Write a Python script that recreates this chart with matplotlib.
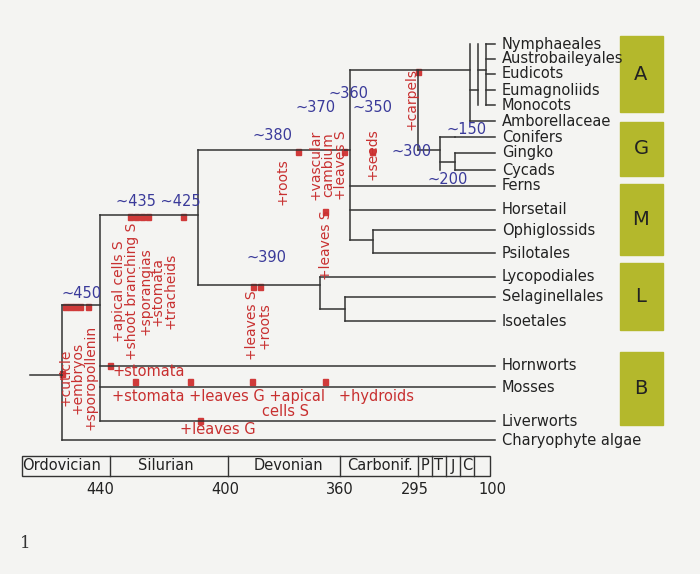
import matplotlib
matplotlib.use("Agg")
import matplotlib.pyplot as plt
from matplotlib.patches import Rectangle

taxa = ["Nymphaeales","Austrobaileyales","Eudicots","Eumagnoliids","Monocots","Amborellaceae",
        "Conifers","Gingko","Cycads","Ferns","Horsetail","Ophiglossids","Psilotales",
        "Lycopodiales","Selaginellales","Isoetales","Hornworts","Mosses","Liverworts","Charyophyte algae"]
taxa_y = [44,59,74,90,105,121,137,153,170,186,210,230,253,277,297,321,366,387,421,440]
taxa_start = [486,486,486,486,486,470,455,455,455,350,350,373,373,320,345,345,100,100,100,62]

groups = ["A","G","M","L","B"]
group_span = [(36,112),(122,176),(184,255),(263,330),(352,425)]

periods = ["Ordovician","Silurian","Devonian","Carbonif.","P","T","J","C"]
period_edges = [22,110,228,340,418,432,446,460,474,490]
period_lx = [62,166,288,380,425,439,453,467]
ages = ["440","400","360","295","100"]
ages_x = [100,225,340,415,492]

ages_node = ["~450","~435 ~425","~390","~380","~370","~360","~350","~300","~150","~200"]
ages_xy = [(82,293),(158,202),(267,258),(272,136),(316,108),(348,94),(372,108),(412,152),(467,130),(448,180)]

# tree segments (x1,y1,x2,y2)
segs = [(30,375,62,375),(62,305,62,440),(62,305,100,305),(100,215,100,421),
        (100,421,495,421),(100,387,495,387),(100,366,495,366),(100,215,198,215),(62,440,495,440),
        (198,150,198,285),(198,150,350,150),(198,285,320,285),(320,277,320,309),
        (320,309,345,309),(345,297,345,321),(350,70,350,240),(350,70,418,70),
        (418,70,418,150),(418,150,440,150),(440,137,440,170),(440,137,455,137),(440,162,455,162),(455,153,455,170),
        (418,70,470,70),(470,44,470,121),(470,90,478,90),(478,44,478,105),(478,70,486,70),(486,44,486,105),
        (350,186,495,186),(350,240,373,240),(373,230,373,253)]
segs += [(s,y,495,y) for s,y in zip(taxa_start,taxa_y) if s in (486,470,455,373,320,345)]
segs += [(350,210,495,210)]

markers = [(65,307),(70,307),(75,307),(80,307),(88,307),(130,217),(136,217),(142,217),(148,217),(183,217),
           (253,287),(260,287),(298,152),(344,152),(372,152),(418,72),(325,212),
           (62,374),(135,382),(190,382),(252,382),(325,382),(200,421),(110,366)]

red_rot = [("+cuticle\n+embryos\n+sporopollenin",78,430),
           ("+apical cells S\n+shoot branching S\n+sporangias\n+stomata\n+tracheids",145,360),
           ("+leaves S\n+roots",258,360),("+roots",283,205),("+vascular\ncambium\n+leaves S",328,200),
           ("+seeds",372,180),("+carpels",412,130),("+leaves S",326,280)]
red_h = [("+stomata",112,372),("+stomata +leaves G +apical   +hydroids",112,396),("cells S",262,412),("+leaves G",180,430)]

fig = plt.figure(figsize=(7,5.74),dpi=100)
ax = fig.add_axes([0,0,1,1])
ax.set_xlim(0,700); ax.set_ylim(574,0); ax.axis("off")
fig.patch.set_facecolor("#f4f4f2")

for x1,y1,x2,y2 in segs:
    ax.plot([x1,x2],[y1,y2],color="#333",lw=1.1)
for t,y in zip(taxa,taxa_y):
    ax.text(502,y,t,fontsize=10.5,va="center",color="#222")
for g,(a,b) in zip(groups,group_span):
    ax.add_patch(Rectangle((620,a),43,b-a,color="#b4b82c"))
    ax.text(641,(a+b)/2,g,fontsize=14,ha="center",va="center",color="#222")
ax.add_patch(Rectangle((22,456),468,20,fill=False,ec="#333",lw=1))
for e in period_edges[1:-1]:
    ax.plot([e,e],[456,476],color="#333",lw=1)
for p,x in zip(periods,period_lx):
    ax.text(x,466,p,fontsize=10.5,ha="center",va="center",color="#222")
for a,x in zip(ages,ages_x):
    ax.text(x,490,a,fontsize=10.5,ha="center",va="center",color="#222")
for t,(x,y) in zip(ages_node,ages_xy):
    ax.text(x,y,t,fontsize=10.5,ha="center",va="center",color="#3a3a9a")
for x,y in markers:
    ax.add_patch(Rectangle((x-2.5,y-3),5,6,color="#d03a3a"))
for t,x,y in red_rot:
    ax.text(x,y,t,fontsize=10,rotation=90,ha="center",va="bottom",color="#c83030",linespacing=0.9)
for t,x,y in red_h:
    ax.text(x,y,t,fontsize=10.5,va="center",color="#c83030")
ax.text(20,548,"1",fontsize=12,family="DejaVu Serif",color="#333")
fig.savefig("out.png",dpi=100,facecolor=fig.get_facecolor())
